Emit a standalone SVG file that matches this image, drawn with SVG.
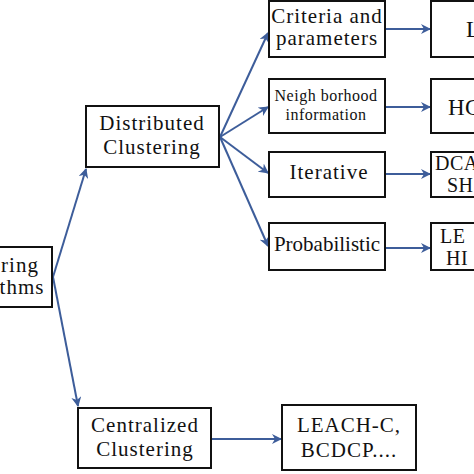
<svg xmlns="http://www.w3.org/2000/svg" width="474" height="474" viewBox="0 0 474 474">
<style>
.box{fill:#fff;stroke:#111;stroke-width:2}
.t{font-family:"Liberation Serif","Times New Roman",serif;font-size:21px;fill:#111;text-anchor:middle;letter-spacing:1px}
.s{font-size:16px;letter-spacing:0.5px}
.r{font-size:23px;text-anchor:start;letter-spacing:0.5px}
.r2{font-size:20px;text-anchor:start;letter-spacing:0.5px}
.c{fill:none;stroke:#3d5d9a;stroke-width:2}
</style>
<defs>
<marker id="ah" viewBox="0 0 10 10" refX="9" refY="5" markerWidth="5" markerHeight="5" orient="auto" markerUnits="strokeWidth">
<path d="M0,0 L10,5 L0,10 L3,5 Z" fill="#3d5d9a"/>
</marker>
</defs>
<rect width="474" height="474" fill="#fff"/>
<g id="connectors">
<line class="c" x1="53" y1="277" x2="86" y2="169" marker-end="url(#ah)"/>
<line class="c" x1="53" y1="277" x2="78" y2="406" marker-end="url(#ah)"/>
<line class="c" x1="220" y1="137" x2="268" y2="33" marker-end="url(#ah)"/>
<line class="c" x1="220" y1="137" x2="268" y2="107" marker-end="url(#ah)"/>
<line class="c" x1="220" y1="137" x2="268" y2="173" marker-end="url(#ah)"/>
<line class="c" x1="220" y1="137" x2="268" y2="246" marker-end="url(#ah)"/>
<line class="c" x1="385" y1="29" x2="430" y2="29" marker-end="url(#ah)"/>
<line class="c" x1="385" y1="107" x2="430" y2="107" marker-end="url(#ah)"/>
<line class="c" x1="385" y1="174" x2="430" y2="174" marker-end="url(#ah)"/>
<line class="c" x1="385" y1="248" x2="430" y2="248" marker-end="url(#ah)"/>
<line class="c" x1="211" y1="439" x2="281" y2="439" marker-end="url(#ah)"/>
</g>
<g id="root">
<rect class="box" x="-10" y="247" width="62" height="60"/>
<text class="t" x="20" y="272">ring</text>
<text class="t" x="22" y="294">thms</text>
</g>
<g id="distributed">
<rect class="box" x="86" y="106" width="133" height="61"/>
<text class="t" x="152" y="130">Distributed</text>
<text class="t" x="152" y="154">Clustering</text>
</g>
<g id="centralized">
<rect class="box" x="78" y="408" width="133" height="60"/>
<text class="t" x="145" y="432">Centralized</text>
<text class="t" x="145" y="456">Clustering</text>
</g>
<g id="leachc">
<rect class="box" x="282" y="405" width="134" height="65"/>
<text class="t" x="349" y="432">LEACH-C,</text>
<text class="t" x="349" y="457">BCDCP....</text>
</g>
<g id="criteria">
<rect class="box" x="269" y="1" width="116" height="56"/>
<text class="t" x="327" y="23">Criteria and</text>
<text class="t" x="327" y="45">parameters</text>
</g>
<g id="neighborhood">
<rect class="box" x="269" y="79" width="116" height="54"/>
<text class="t s" x="326" y="101">Neigh borhood</text>
<text class="t s" x="326" y="120">information</text>
</g>
<g id="iterative">
<rect class="box" x="269" y="152" width="116" height="45"/>
<text class="t" x="329" y="179">Iterative</text>
</g>
<g id="probabilistic">
<rect class="box" x="269" y="223" width="116" height="47"/>
<text class="t" x="327" y="251" style="letter-spacing:0">Probabilistic</text>
</g>
<g id="r1">
<rect class="box" x="431" y="1" width="60" height="56"/>
<text class="t r" x="466" y="37">L</text>
</g>
<g id="r2">
<rect class="box" x="431" y="79" width="60" height="54"/>
<text class="t r" x="448" y="115">HC</text>
</g>
<g id="r3">
<rect class="box" x="431" y="152" width="60" height="45"/>
<text class="t r2" x="435" y="170">DCA</text>
<text class="t r2" x="447" y="192">SH</text>
</g>
<g id="r4">
<rect class="box" x="431" y="223" width="60" height="47"/>
<text class="t r2" x="440" y="243">LE</text>
<text class="t r2" x="446" y="265">HI</text>
</g>
</svg>
